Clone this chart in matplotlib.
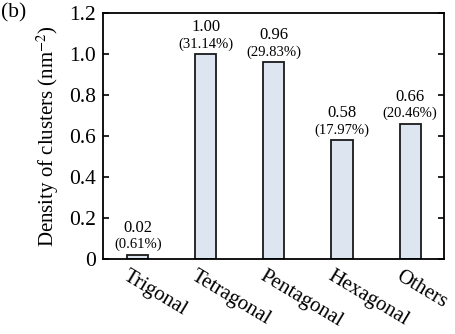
import matplotlib
matplotlib.use("Agg")
import matplotlib.pyplot as plt
import matplotlib.transforms as mtransforms

categories = ["Trigonal", "Tetragonal", "Pentagonal", "Hexagonal", "Others"]
density = [0.02, 1.00, 0.96, 0.58, 0.66]
percent = ["0.61%", "31.14%", "29.83%", "17.97%", "20.46%"]
yticks = [0, 0.2, 0.4, 0.6, 0.8, 1.0, 1.2]
ytick_labels = ["0", "0.2", "0.4", "0.6", "0.8", "1.0", "1.2"]

plt.rcParams['font.family'] = ['Liberation Serif', 'DejaVu Serif']
plt.rcParams['mathtext.fontset'] = 'stix'

fig = plt.figure(figsize=(4.56, 3.34), dpi=100)
ax = fig.add_axes([0.226, 0.2246, 0.748, 0.7364])

pos = range(len(categories))
ax.bar(pos, density, width=0.31, color='#dde5f1', edgecolor='#1a1a1a',
       linewidth=1.3, zorder=2)

for x, v, p in zip(pos, density, percent):
    ax.annotate(f"({p})", (x, v), xytext=(0, 2.5), textcoords='offset points',
                ha='center', va='bottom', fontsize=10.5)
    ax.annotate(f"{v:.2f}", (x, v), xytext=(0, 13.5), textcoords='offset points',
                ha='center', va='bottom', fontsize=12)

ax.set_xlim(-0.51, 4.5)
ax.set_ylim(0, 1.2)
ax.set_yticks(yticks)
ax.set_yticklabels(ytick_labels, fontsize=15.5)
ax.tick_params(axis='y', direction='in', length=4, width=1.2, right=True, pad=5)
ax.tick_params(axis='x', length=0, pad=5.5)
ax.set_xticks(list(pos))
ax.set_xticklabels(categories, fontsize=15, rotation=-31, ha='left',
                   va='top', rotation_mode='anchor')
# nudge rotated labels a bit to the left (after tick_params, which resets transforms)
offset = mtransforms.ScaledTranslation(-8 / 100, 0, fig.dpi_scale_trans)
for lbl in ax.get_xticklabels():
    lbl.set_transform(lbl.get_transform() + offset)
for s in ax.spines.values():
    s.set_linewidth(1.3)

ax.set_ylabel(r"Density of clusters (nm$^{-2}$)", fontsize=15, labelpad=6)
fig.text(0.002, 0.99, "(b)", fontsize=15.5, ha='left', va='top')

fig.savefig("out.png", dpi=100)
